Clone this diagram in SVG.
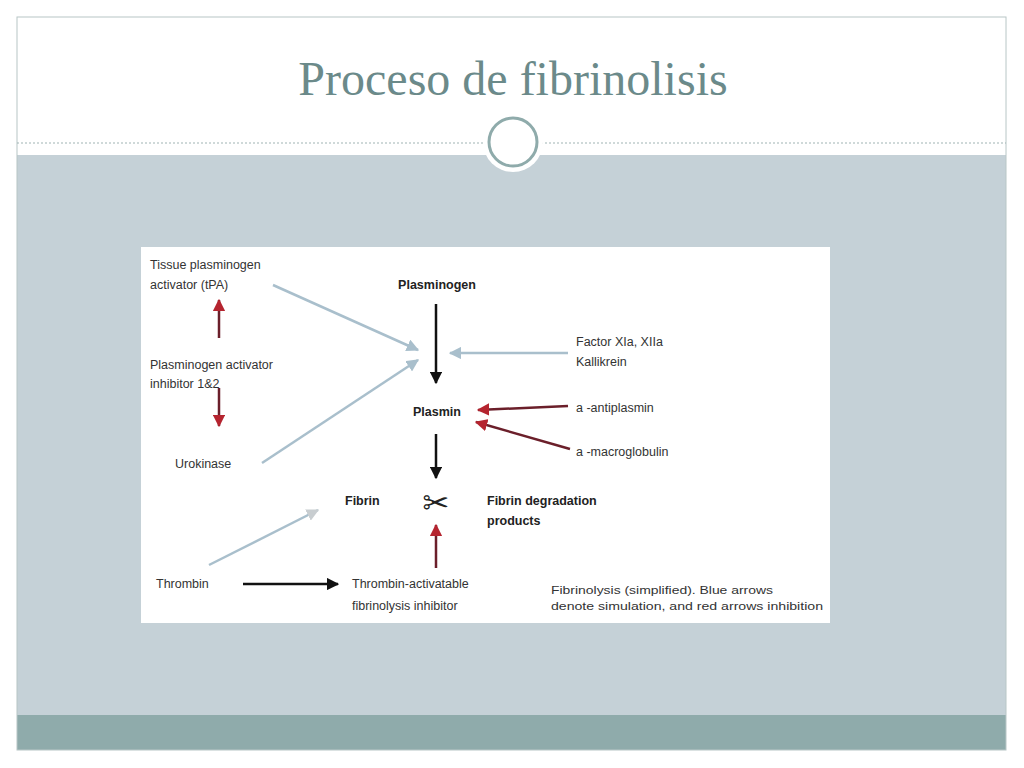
<svg xmlns="http://www.w3.org/2000/svg" width="1024" height="768" viewBox="0 0 1024 768">
<defs>
<style>
.t{font-family:"Liberation Sans",Arial,sans-serif;font-size:12.5px;fill:#333}
.b{font-weight:bold;fill:#222}
.s{font-size:11px}
.blue{stroke:#a9bfcc;stroke-width:2.5;fill:none}
.red{stroke:#6b1f2a;stroke-width:2.5;fill:none}
.blk{stroke:#111;stroke-width:2.5;fill:none}
</style>
<marker id="ab" viewBox="0 0 10 10" refX="9" refY="5" markerWidth="5" markerHeight="5" orient="auto"><path d="M0,0L10,5L0,10z" fill="#a9bfcc"/></marker>
<marker id="ag" viewBox="0 0 10 10" refX="9" refY="5" markerWidth="5" markerHeight="5" orient="auto"><path d="M0,0L10,5L0,10z" fill="#c8cdd0"/></marker>
<marker id="ar" viewBox="0 0 10 10" refX="9" refY="5" markerWidth="5" markerHeight="5" orient="auto"><path d="M0,0L10,5L0,10z" fill="#b5242f"/></marker>
<marker id="ak" viewBox="0 0 10 10" refX="9" refY="5" markerWidth="5" markerHeight="5" orient="auto"><path d="M0,0L10,5L0,10z" fill="#111"/></marker>
</defs>
<rect width="1024" height="768" fill="#fff"/>
<rect x="17" y="155" width="989" height="560" fill="#c5d1d7"/>
<rect x="17" y="715" width="989" height="35" fill="#8fabab"/>
<rect x="17" y="17" width="989" height="733" fill="none" stroke="#b8c6c6" stroke-width="1"/>
<line x1="17" y1="143" x2="1006" y2="143" stroke="#9fb3b3" stroke-width="1" stroke-dasharray="2,2"/>
<circle cx="513" cy="142" r="30" fill="#fff"/>
<circle cx="513" cy="142" r="24" fill="#fff" stroke="#8fabab" stroke-width="3"/>
<text x="513" y="95" text-anchor="middle" font-family="Liberation Serif,serif" font-size="48" fill="#6b8a8a">Proceso de fibrinolisis</text>
<rect x="141" y="247" width="689" height="376" fill="#fff"/>
<g id="connectors">
<line class="blue" x1="273" y1="285" x2="418" y2="350" marker-end="url(#ab)"/>
<line class="blue" x1="262" y1="463" x2="418" y2="360" marker-end="url(#ab)"/>
<line class="blue" x1="568" y1="353" x2="450" y2="353" marker-end="url(#ab)"/>
<line class="blue" x1="209" y1="565" x2="318" y2="510" marker-end="url(#ag)" stroke="#c8cdd0"/>
<line class="red" x1="219" y1="338" x2="219" y2="300" marker-end="url(#ar)"/>
<line class="red" x1="219" y1="388" x2="219" y2="426" marker-end="url(#ar)"/>
<line class="red" x1="568" y1="406" x2="478" y2="410" marker-end="url(#ar)"/>
<line class="red" x1="570" y1="449" x2="476" y2="422" marker-end="url(#ar)"/>
<line class="red" x1="436" y1="568" x2="436" y2="525" marker-end="url(#ar)"/>
<line class="blk" x1="436" y1="304" x2="436" y2="383" marker-end="url(#ak)"/>
<line class="blk" x1="436" y1="434" x2="436" y2="478" marker-end="url(#ak)"/>
<line class="blk" x1="243" y1="584" x2="338" y2="584" marker-end="url(#ak)"/>
</g>
<g id="tpa"><text class="t" x="150" y="269">Tissue plasminogen</text><text class="t" x="150" y="289">activator (tPA)</text></g>
<g id="pai"><text class="t" x="150" y="369">Plasminogen activator</text><text class="t" x="150" y="388">inhibitor 1&amp;2</text></g>
<g id="uro"><text class="t" x="175" y="468">Urokinase</text></g>
<g id="plasminogen"><text class="t b" x="437" y="289" text-anchor="middle">Plasminogen</text></g>
<g id="factor"><text class="t" x="576" y="346">Factor XIa, XIIa</text><text class="t" x="576" y="366">Kallikrein</text></g>
<g id="plasmin"><text class="t b" x="437" y="416" text-anchor="middle">Plasmin</text></g>
<g id="anti"><text class="t" x="576" y="412">a -antiplasmin</text></g>
<g id="macro"><text class="t" x="576" y="456">a -macroglobulin</text></g>
<g id="fibrin"><text class="t b" x="345" y="505">Fibrin</text></g>
<g id="scissors"><text x="436" y="514" text-anchor="middle" font-family="DejaVu Sans,sans-serif" font-size="32" fill="#222">✂</text></g>
<g id="fdp"><text class="t b" x="487" y="505">Fibrin degradation</text><text class="t b" x="487" y="525">products</text></g>
<g id="thrombin"><text class="t" x="156" y="588">Thrombin</text></g>
<g id="tafi"><text class="t" x="352" y="588">Thrombin-activatable</text><text class="t" x="352" y="610">fibrinolysis inhibitor</text></g>
<g id="caption"><text class="t s" x="551" y="594" textLength="222" lengthAdjust="spacingAndGlyphs">Fibrinolysis (simplified). Blue arrows</text><text class="t s" x="551" y="610" textLength="272" lengthAdjust="spacingAndGlyphs">denote simulation, and red arrows inhibition</text></g>
</svg>
